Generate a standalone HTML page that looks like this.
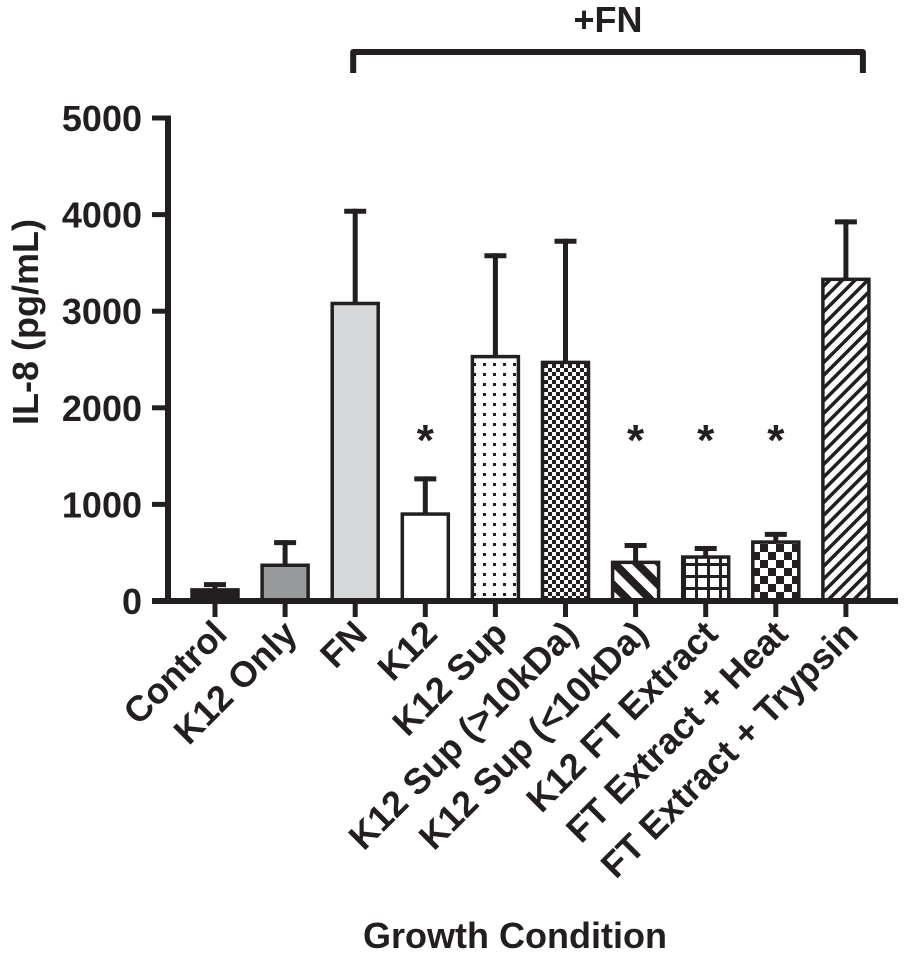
<!DOCTYPE html>
<html><head><meta charset="utf-8"><style>
html,body{margin:0;padding:0;background:#fff;}
svg text{font-family:"Liberation Sans",Arial,sans-serif;font-weight:bold;fill:#231f20;}
</style></head><body>
<svg id="chart" width="904" height="961" viewBox="0 0 904 961" xmlns="http://www.w3.org/2000/svg">
<defs>
<pattern id="p-dots" width="10" height="10" patternUnits="userSpaceOnUse"><rect width="10" height="10" fill="#fff"/><rect x="3" y="3" width="3" height="3" fill="#231f20"/></pattern>
<pattern id="p-finecheck" width="8" height="8" patternUnits="userSpaceOnUse"><rect width="8" height="8" fill="#231f20"/><rect x="0" y="0" width="4" height="4" fill="#fff"/><rect x="4" y="4" width="4" height="4" fill="#fff"/></pattern>
<pattern id="p-bstripe" width="16" height="16" patternUnits="userSpaceOnUse" patternTransform="rotate(-45)"><rect width="16" height="16" fill="#fff"/><rect width="8" height="16" fill="#231f20"/></pattern>
<pattern id="p-grid" width="12" height="12" patternUnits="userSpaceOnUse"><rect width="12" height="12" fill="#231f20"/><rect x="2" y="2" width="9" height="9" fill="#fff"/></pattern>
<pattern id="p-bigcheck" width="16" height="16" patternUnits="userSpaceOnUse"><rect width="16" height="16" fill="#231f20"/><rect x="0" y="0" width="8" height="8" fill="#fff"/><rect x="8" y="8" width="8" height="8" fill="#fff"/></pattern>
<pattern id="p-fstripe" width="9" height="9" patternUnits="userSpaceOnUse" patternTransform="rotate(45)"><rect width="9" height="9" fill="#fff"/><rect width="3.5" height="9" fill="#231f20"/></pattern>
</defs>
<g id="bars"></g>
<g id="axes"></g>
</svg>
<script>
const categories = ["Control","K12 Only","FN","K12","K12 Sup","K12 Sup (>10kDa)","K12 Sup (<10kDa)","K12 FT Extract","FT Extract + Heat","FT Extract + Trypsin"];
const means = [115, 370, 3080, 900, 2530, 2470, 400, 455, 610, 3330];
const errors = [80, 260, 980, 390, 1070, 1280, 200, 115, 105, 620];
const significant = [false,false,false,true,false,false,true,true,true,false];
const yTicks = [0,1000,2000,3000,4000,5000];
const fills = ["#231f20","#98999b","#d6d7d9","#fff","url(#p-dots)","url(#p-finecheck)","url(#p-bstripe)","url(#p-grid)","url(#p-bigcheck)","url(#p-fstripe)"];

const NS="http://www.w3.org/2000/svg";
const gb=document.getElementById('bars'), ga=document.getElementById('axes');
const y0=601, yTop=118, yMax=5000;
const yS=v=>y0-(v/yMax)*(y0-yTop);
const xS=i=>215+i*70.1;
const barW=46;
const C="#231f20";
function mk(tag,attrs,parent){const e=document.createElementNS(NS,tag);for(const k in attrs)e.setAttribute(k,attrs[k]);parent.appendChild(e);return e;}

categories.forEach((c,i)=>{
  const x=xS(i), top=yS(means[i]), etop=yS(means[i]+errors[i]);
  const eb=mk('line',{x1:x,x2:x,y1:etop,y2:top,stroke:C,'stroke-width':5},gb);
  
  
  const cap=mk('line',{x1:x-11,x2:x+11,y1:etop+2.5,y2:etop+2.5,stroke:C,'stroke-width':5},gb);
  
  
  const r=mk('rect',{x:x-barW/2,y:top,width:barW,height:y0-top,fill:fills[i],stroke:C,'stroke-width':3.5},gb);
  
  
  if(significant[i]){
    const s=mk('text',{x:x,y:455,'text-anchor':'middle','font-size':44},gb);
    s.textContent='*';
    
    
  }
  const t=mk('line',{x1:x,x2:x,y1:y0,y2:617,stroke:C,'stroke-width':5},ga);
  
  
  const lx=x+14, ly=636;
  const lb=mk('text',{x:lx,y:ly,'text-anchor':'end','font-size':36,transform:`rotate(-45 ${lx} ${ly})`},ga);
  lb.textContent=c;
  
  
});

const yax=mk('line',{x1:168,x2:168,y1:yTop-2.5,y2:y0+2.5,stroke:C,'stroke-width':6},ga);


const xax=mk('line',{x1:152,x2:898,y1:y0,y2:y0,stroke:C,'stroke-width':6},ga);


yTicks.forEach((v,i)=>{
  const y=yS(v);
  const t=mk('line',{x1:152,x2:168,y1:y,y2:y,stroke:C,'stroke-width':5},ga);
  
  
  const l=mk('text',{x:142,y:y+13,'text-anchor':'end','font-size':36},ga);
  l.textContent=String(v);
  
  
});
const yt=mk('text',{x:38,y:322,'text-anchor':'middle','font-size':36,transform:'rotate(-90 38 322)'},ga);
yt.textContent='IL-8 (pg/mL)';


const xt=mk('text',{x:515,y:948,'text-anchor':'middle','font-size':36},ga);
xt.textContent='Growth Condition';


const br=mk('path',{d:`M${xS(2)-2} 73 L${xS(2)-2} 52 L${xS(9)+17} 52 L${xS(9)+17} 73`,fill:'none',stroke:C,'stroke-width':6,'stroke-linejoin':'round'},ga);


const bt=mk('text',{x:608,y:32,'text-anchor':'middle','font-size':36},ga);
bt.textContent='+FN';


</script>
</body></html>
